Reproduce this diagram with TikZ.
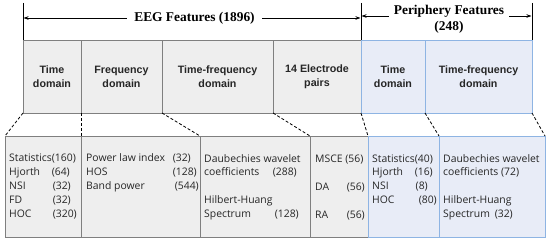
\documentclass[tikz,border=0pt]{standalone}
\usepackage{fontspec}
\setmainfont{Liberation Serif}
\newfontfamily\hdfont{Liberation Sans}
\newfontfamily\bdfont{Open Sans}
\usetikzlibrary{arrows.meta}
\definecolor{gfill}{HTML}{EEEEEE}
\definecolor{gline}{HTML}{7F7F7F}
\definecolor{bfill}{HTML}{E8ECF7}
\definecolor{bline}{HTML}{8EB4E3}
\begin{document}
\begin{tikzpicture}[x=1pt,y=-1pt,
  gbox/.style={draw=gline,fill=gfill,line width=0.9pt,inner sep=0pt,outer sep=0pt},
  bbox/.style={draw=bline,fill=bfill,line width=0.9pt,inner sep=0pt,outer sep=0pt},
  toptxt/.style={font=\hdfont\bfseries\fontsize{10.7}{14}\selectfont,align=center,text=black!85},
  lbl/.style={font=\bdfont\fontsize{10.4}{14}\selectfont,anchor=mid west,inner sep=0pt,text=black!85},
  num/.style={font=\bdfont\fontsize{10.4}{14}\selectfont,anchor=mid east,inner sep=0pt,text=black!85},
  conn/.style={dashed,dash pattern=on 3pt off 2pt,line width=0.8pt},
  dim/.style={line width=0.9pt,{Stealth[length=5pt,width=3.5pt]}-{Stealth[length=5pt,width=3.5pt]}},
  hdr/.style={font=\bfseries\fontsize{13.4}{16}\selectfont,fill=white,align=center}
]
\useasboundingbox (0,0) rectangle (550,243);
% top boxes
\node[gbox,minimum width=58pt,minimum height=73pt] (t1) at (52,76.5) {};
\node[gbox,minimum width=81pt,minimum height=73pt] (t2) at (121.5,76.5) {};
\node[gbox,minimum width=111pt,minimum height=73pt] (t3) at (217.5,76.5) {};
\node[gbox,minimum width=88pt,minimum height=73pt] (t4) at (317,76.5) {};
\node[bbox,minimum width=64pt,minimum height=73pt] (t5) at (393,76.5) {};
\node[bbox,minimum width=107pt,minimum height=73pt] (t6) at (478.5,76.5) {};
\node[toptxt] at (t1) {Time\\domain};
\node[toptxt] at (t2) {Frequency\\domain};
\node[toptxt] at (t3) {Time-frequency\\domain};
\node[toptxt] at (t4) {14 Electrode\\pairs};
\node[toptxt] at (t5) {Time\\domain};
\node[toptxt] at (t6) {Time-frequency\\domain};
% bottom boxes
\node[gbox,minimum width=76pt,minimum height=101pt] (b1) at (43,186.5) {};
\node[gbox,minimum width=119pt,minimum height=101pt] (b2) at (140.5,186.5) {};
\node[gbox,minimum width=110pt,minimum height=101pt] (b3) at (255,186.5) {};
\node[gbox,minimum width=58pt,minimum height=101pt] (b4) at (339,186.5) {};
\node[bbox,minimum width=71pt,minimum height=101pt] (b5) at (403.5,186.5) {};
\node[bbox,minimum width=106pt,minimum height=101pt] (b6) at (492,186.5) {};
% connectors
\draw[conn] (t1.south west) -- (b1.north west);
\draw[conn] (t2.south west) -- (b2.north west);
\draw[conn] (t3.south west) -- (b3.north west);
\draw[conn] (t4.south west) -- (b4.north west);
\draw[conn] (t5.south west) -- (b5.north west);
\draw[conn] (t6.south west) -- (b6.north west);
\draw[conn] (t6.south east) -- (b6.north east);
% header
\coordinate (e0) at (23,3);
\coordinate (e1) at (361,3);
\coordinate (e2) at (532,3);
\draw[line width=0.9pt] (e0) -- (t1.north west);
\draw[line width=0.9pt] (e1) -- (t5.north west);
\draw[line width=0.9pt] (e2) -- (t6.north east);
\coordinate (a0) at (23.5,18);
\coordinate (a1) at (360.5,18);
\draw[dim] (a0) -- (a1);
\node[hdr,inner xsep=7pt,inner ysep=1pt] (eeg) at (194.5,18) {EEG Features (1896)};
\coordinate (p0) at (361.5,16);
\coordinate (p1) at (531.5,16);
\draw[dim] (p0) -- (p1);
\node[hdr,inner xsep=5pt,inner ysep=0pt] (per) at (449,19) {Periphery Features\\(248)};
% bottom texts box 1
\node[lbl] at (9,159) {Statistics(160)};
\node[lbl] at (9,173) {Hjorth};
\node[num] at (70,173) {(64)};
\node[lbl] at (9,187) {NSI};
\node[num] at (71,187) {(32)};
\node[lbl] at (9,201) {FD};
\node[num] at (71,201) {(32)};
\node[lbl] at (9,215) {HOC};
\node[num] at (77,215) {(320)};
% box 2
\node[lbl] at (86,159) {Power law index};
\node[num] at (191,159) {(32)};
\node[lbl] at (86,173) {HOS};
\node[num] at (197,173) {(128)};
\node[lbl] at (86,187) {Band power};
\node[num] at (199,187) {(544)};
% box 3
\node[lbl] at (204,160) {Daubechies wavelet};
\node[lbl] at (204,173) {coefficients};
\node[num] at (297,173) {(288)};
\node[lbl] at (204,201) {Hilbert-Huang};
\node[lbl] at (204,215) {Spectrum};
\node[num] at (299,215) {(128)};
% box 4
\node[lbl] at (315,160) {MSCE (56)};
\node[lbl] at (315,188) {DA};
\node[num] at (365,188) {(56)};
\node[lbl] at (315,216) {RA};
\node[num] at (365,216) {(56)};
% box 5
\node[lbl] at (372,160) {Statistics(40)};
\node[lbl] at (372,173) {Hjorth};
\node[num] at (433,173) {(16)};
\node[lbl] at (372,187) {NSI};
\node[num] at (428,187) {(8)};
\node[lbl] at (372,201) {HOC};
\node[num] at (437,201) {(80)};
% box 6
\node[lbl] at (443,160) {Daubechies wavelet};
\node[lbl] at (443,173) {coefficients (72)};
\node[lbl] at (443,201) {Hilbert-Huang};
\node[lbl] at (443,215) {Spectrum};
\node[num] at (513,215) {(32)};
\end{tikzpicture}
\end{document}
